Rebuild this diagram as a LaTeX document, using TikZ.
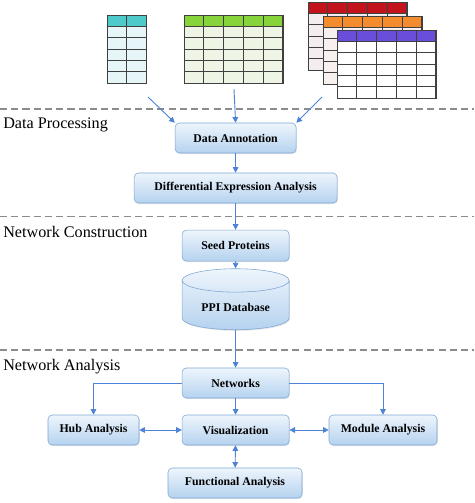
\documentclass[tikz,border=0pt]{standalone}
\usepackage{fontspec}
\setmainfont{Liberation Serif}
\usetikzlibrary{positioning,shapes.geometric,arrows.meta,shadows}
\definecolor{boxline}{HTML}{7DA6D3}
\definecolor{boxtop}{HTML}{EEF5FC}
\definecolor{boxbottom}{HTML}{B5D2EF}
\definecolor{arrowblue}{HTML}{4E82D6}
\definecolor{cyanhead}{HTML}{4FCACB}
\definecolor{cyanbody}{HTML}{E6F5F7}
\definecolor{greenhead}{HTML}{86D43A}
\definecolor{greenbody}{HTML}{EEF5E4}
\definecolor{redhead}{HTML}{C3141E}
\definecolor{redbody}{HTML}{F4EDEF}
\definecolor{orangehead}{HTML}{F28C2E}
\definecolor{orangebody}{HTML}{F8F0EE}
\definecolor{purplehead}{HTML}{6A4EDB}
% x, y (top left), columns, header colour, body colour
\newcommand{\datatable}[5]{%
    \begin{scope}[shift={(#1,#2)}]
        \fill[#5] (0,0) rectangle (#3*0.495,-1.7);
        \fill[#4] (0,0) rectangle (#3*0.495,-0.2833);
        \draw[tabline,xstep=0.495,ystep=0.2833] (0,-1.7) grid (#3*0.495,0);
        \draw[tabline] (0,0) rectangle (#3*0.495,-1.7);
    \end{scope}}

\begin{document}
\begin{tikzpicture}[
        box/.style={draw=boxline, rounded corners=3pt, top color=boxtop, bottom color=boxbottom,
            minimum height=0.75cm, font=\fontsize{8.4}{10}\selectfont\bfseries,
            drop shadow={opacity=0.2, shadow xshift=0.6pt, shadow yshift=-0.8pt}},
        arr/.style={draw=arrowblue, line width=0.65pt, -{Triangle[length=4pt,width=4pt]}},
        twoway/.style={arr, {Triangle[length=4pt,width=4pt]}-{Triangle[length=4pt,width=4pt]}},
        divider/.style={draw=black!45, dash pattern=on 5pt off 3pt, line width=0.9pt},
        section/.style={anchor=west, inner sep=0pt, font=\fontsize{11.5}{13}\selectfont},
        tabline/.style={draw=black!75, line width=0.7pt}
    ]
    \useasboundingbox (0,0) rectangle (11.85,-12.575);

    %Tables
    \datatable{2.675}{-0.375}{2}{cyanhead}{cyanbody}
    \datatable{4.6}{-0.375}{5}{greenhead}{greenbody}
    \datatable{7.7}{-0.05}{5}{redhead}{redbody}
    \datatable{8.075}{-0.4}{5}{orangehead}{orangebody}
    \datatable{8.425}{-0.75}{5}{purplehead}{white}
    \coordinate (t1) at (3.7,-2.425);
    \coordinate (t2) at (5.85,-2.225);
    \coordinate (t3) at (8.05,-2.425);

    %Dividers
    \draw[divider] (0,-2.725) -- (11.85,-2.725);
    \draw[divider] (0,-5.41) -- (11.85,-5.41);
    \draw[divider] (0,-8.75) -- (11.85,-8.75);

    %Sections
    \node[section] at (0.075,-3.125) (proc) {Data Processing};
    \node[section] at (0.075,-5.8) (cons) {Network Construction};
    \node[section] at (0.075,-9.175) (anal) {Network Analysis};

    %Nodes
    \node[box, minimum width=3.025cm] at (5.89,-3.45) (DA) {Data Annotation};
    \node[box, minimum width=5.075cm] at (5.89,-4.7) (DEA) {Differential Expression Analysis};
    \node[box, minimum width=2.675cm, minimum height=0.775cm] at (5.89,-6.14) (seed) {Seed Proteins};
    \node[box, sharp corners, shape=cylinder, shape border rotate=90, aspect=0.3,
        minimum width=2.675cm, minimum height=1.525cm] at (5.89,-7.69) (PPI) {PPI Database};
    \node[box, minimum width=2.675cm] at (5.89,-9.575) (net) {Networks};
    \node[box, minimum width=2.275cm] at (2.3375,-10.75) (hub) {Hub Analysis};
    \node[box, minimum width=2.675cm] at (5.89,-10.75) (vis) {Visualization};
    \node[box, minimum width=2.7cm] at (9.575,-10.75) (mod) {Module Analysis};
    \node[box, minimum width=3.35cm] at (5.875,-12.075) (func) {Functional Analysis};

    %Lines
    \draw[arr] (t1) -- (DA.north west);
    \draw[arr] (t2) -- (DA.north);
    \draw[arr] (t3) -- (DA.north east);
    \draw[arr] (DA) -- (DEA);
    \draw[arr] (DEA) -- (seed);
    \draw[arr] (seed) -- (PPI.north);
    \draw[arr] (PPI.south) -- (net);
    \draw[arr] (net) -- (vis);
    \draw[arr] (net.west) -| (hub.north);
    \draw[arr] (net.east) -| (mod.north);
    \draw[twoway] (hub) -- (vis);
    \draw[twoway] (vis) -- (mod);
    \draw[twoway] (vis) -- (func);
\end{tikzpicture}
\end{document}
